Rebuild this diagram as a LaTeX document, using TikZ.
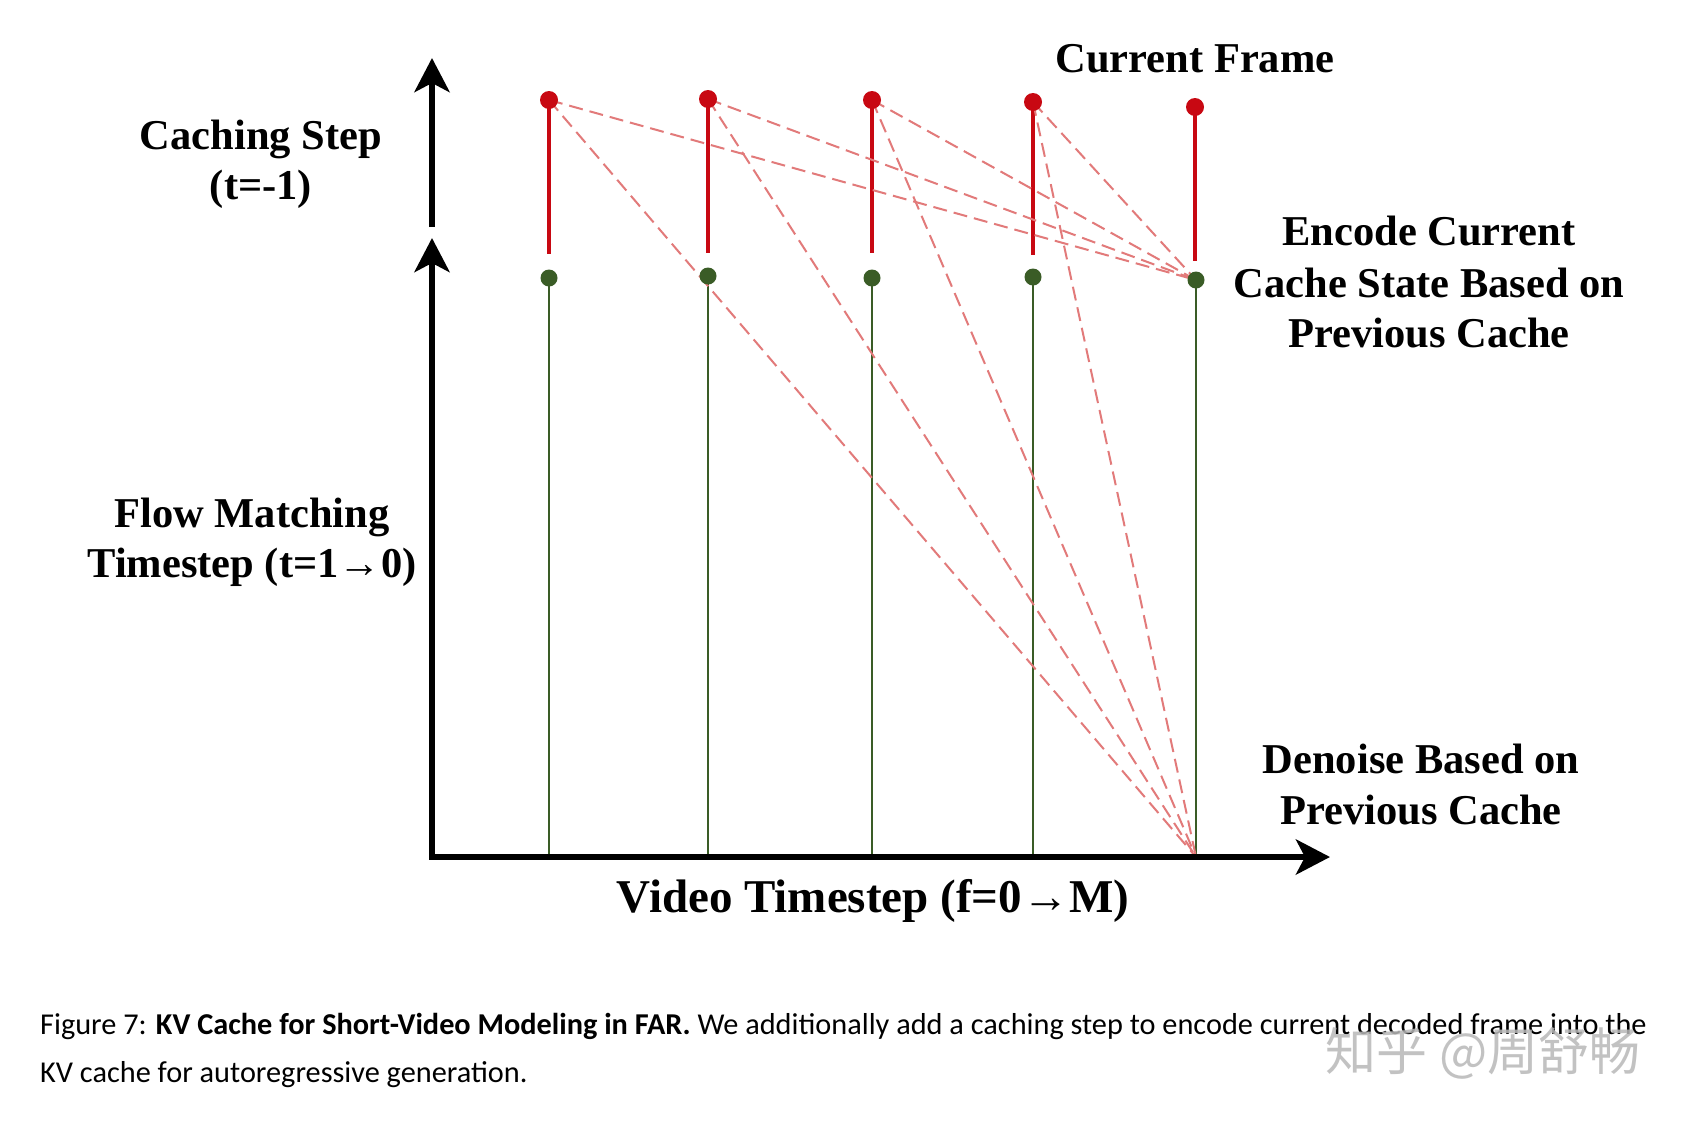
\documentclass[tikz,border=0pt]{standalone}
\usepackage{fontspec}
\setmainfont{Liberation Serif}
\newfontfamily\capfont{Carlito}
\newfontfamily\cjkfont{Noto Sans CJK SC}
\usetikzlibrary{arrows.meta}
\definecolor{redline}{RGB}{200,8,18}
\definecolor{greenline}{RGB}{58,92,38}
\definecolor{dashred}{RGB}{226,122,122}
\begin{document}
\begin{tikzpicture}[x=1pt,y=-1pt,
  axisline/.style={line width=6.5pt, line join=miter},
  bigtip/.tip={Stealth[length=34pt,width=35pt,inset=9pt]},
  redstem/.style={draw=redline, line width=3.2pt},
  greenstem/.style={draw=greenline, line width=2.5pt},
  reddot/.style={circle, fill=redline, inner sep=0pt, minimum size=18pt},
  greendot/.style={circle, fill=greenline, inner sep=0pt, minimum size=17pt},
  dashline/.style={draw=dashred, line width=2pt, dash pattern=on 14pt off 7pt},
  lbl/.style={anchor=base, font=\fontsize{42.5}{51}\selectfont\bfseries, inner sep=0pt},
  biglbl/.style={anchor=base, font=\fontsize{47}{56}\selectfont\bfseries, inner sep=0pt},
  captxt/.style={anchor=base west, font=\capfont\fontsize{30.3}{34}\selectfont, inner sep=0pt}
]
\useasboundingbox (0,0) rectangle (1684,1120);
\fill[white] (0,0) rectangle (1684,1120);

% axis coordinates
\coordinate (O) at (432,857);
\coordinate (ytop) at (432,58);
\coordinate (ybase) at (432,227);
\coordinate (ymid) at (432,238);
\coordinate (xend) at (1330,857);

% frame positions
\coordinate (cr1) at (549,100);  \coordinate (cg1) at (549,278);
\coordinate (cr2) at (708,99);   \coordinate (cg2) at (708,276);
\coordinate (cr3) at (872,100);  \coordinate (cg3) at (872,278);
\coordinate (cr4) at (1033,102); \coordinate (cg4) at (1033,277);
\coordinate (cr5) at (1195,107); \coordinate (cg5) at (1196,280);
\coordinate (e1) at (549,254);  \coordinate (b1) at (549,857);
\coordinate (e2) at (708,253);  \coordinate (b2) at (708,857);
\coordinate (e3) at (872,253);  \coordinate (b3) at (872,857);
\coordinate (e4) at (1033,255); \coordinate (b4) at (1033,857);
\coordinate (e5) at (1195,261); \coordinate (b5) at (1196,857);

% stems
\foreach \i in {1,...,5} {
  \draw[redstem] (cr\i) -- (e\i);
  \draw[greenstem] (cg\i) -- (b\i);
}

% dashed attention lines
\foreach \i in {1,...,4} {
  \draw[dashline] (cr\i) -- (cg5);
  \draw[dashline] (cr\i) -- (b5);
}

% dots
\foreach \i in {1,...,5} {
  \node[reddot] (r\i) at (cr\i) {};
  \node[greendot] (g\i) at (cg\i) {};
}

% axes
\draw[axisline, -{bigtip}] (ybase) -- (ytop);
\draw[axisline, {bigtip}-{bigtip}] (ymid) -- (O) -- (xend);

% labels
\node[lbl] (cf) at (1195,72) {Current Frame};
\node[lbl] (cs1) at (261,149) {Caching Step};
\node[lbl] (cs2) at (261,199) {(t=-1)};
\node[lbl] (en1) at (1429,245) {Encode Current};
\node[lbl] (en2) at (1429,297) {Cache State Based on};
\node[lbl] (en3) at (1429,347) {Previous Cache};
\node[lbl] (fm1) at (252,527) {Flow Matching};
\node[lbl] (fm2) at (252,577) {Timestep (t=1→0)};
\node[lbl] (dn1) at (1421,773) {Denoise Based on};
\node[lbl] (dn2) at (1421,824) {Previous Cache};
\node[biglbl] (vt) at (873,912) {Video Timestep (f=0→M)};

% caption
\node[captxt] (cap1) at (40,1034) {Figure 7: \textbf{KV Cache for Short-Video Modeling in FAR.} We additionally add a caching step to encode current decoded frame into the};
\node[captxt] (cap2) at (40,1082) {KV cache for autoregressive generation.};

% watermark
\node[font=\cjkfont\fontsize{51}{51}\selectfont, text=black!28, opacity=0.85, inner sep=0pt] (wm) at (1483,1053) {知乎 @周舒畅};
\end{tikzpicture}
\end{document}
